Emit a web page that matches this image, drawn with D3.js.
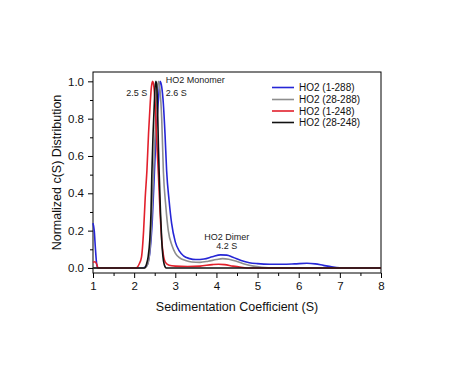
<!DOCTYPE html>
<html><head><meta charset="utf-8">
<script src="https://cdn.jsdelivr.net/npm/d3@7"></script>
<style>body{margin:0;background:#fff;} text{font-family:"Liberation Sans",Arial,sans-serif;}</style>
</head><body><svg id="c" width="474" height="366"></svg>
<script>
const seriesNames = ["HO2 (1-288)", "HO2 (28-288)", "HO2 (1-248)", "HO2 (28-248)"];
const seriesColors = ["#2626d6", "#8e8e8e", "#e2202c", "#111111"];
const blueS = [1.0,1.03,1.06,1.09,1.12,2.2,2.3,2.38,2.44,2.49,2.54,2.59,2.63,2.67,2.71,2.75,2.79,2.85,2.91,3.0,3.1,3.2,3.35,3.5,3.7,3.9,4.1,4.25,4.4,4.6,4.8,5.0,5.3,5.6,5.9,6.2,6.4,6.6,6.8,7.0,7.2,8.0];
const blueC = [0.24,0.2,0.1,0.02,0,0,0.01,0.08,0.25,0.5,0.75,0.9,1.0,0.97,0.88,0.72,0.52,0.36,0.24,0.14,0.09,0.065,0.05,0.045,0.048,0.06,0.07,0.069,0.058,0.04,0.028,0.023,0.02,0.02,0.022,0.025,0.022,0.014,0.006,0.001,0,0];
const grayS = [1.0,2.25,2.33,2.4,2.47,2.52,2.56,2.59,2.63,2.67,2.71,2.77,2.83,2.92,3.0,3.1,3.25,3.4,3.6,3.8,4.0,4.15,4.3,4.5,4.7,4.9,5.1,5.4,8.0];
const grayC = [0,0,0.02,0.15,0.5,0.78,0.95,1.0,0.95,0.8,0.52,0.33,0.2,0.12,0.08,0.055,0.04,0.032,0.03,0.036,0.045,0.05,0.047,0.035,0.02,0.01,0.004,0,0];
const redS = [1.0,1.05,1.09,1.12,2.05,2.12,2.18,2.23,2.27,2.31,2.35,2.39,2.42,2.45,2.48,2.51,2.55,2.59,2.63,2.67,2.71,2.76,2.85,3.0,3.3,3.6,3.9,4.05,4.2,4.4,4.6,4.8,8.0];
const redC = [0.03,0.033,0.02,0,0,0.02,0.06,0.2,0.38,0.52,0.72,0.88,0.97,1.0,0.97,0.88,0.68,0.5,0.3,0.15,0.07,0.03,0.015,0.01,0.008,0.01,0.018,0.02,0.018,0.01,0.004,0,0];
const blackS = [1.0,2.25,2.3,2.34,2.38,2.41,2.43,2.46,2.49,2.51,2.53,2.55,2.57,2.59,2.61,2.64,2.67,2.7,2.73,2.78,8.0];
const blackC = [0,0,0.02,0.06,0.15,0.3,0.5,0.72,0.88,0.97,1.0,0.97,0.85,0.65,0.5,0.3,0.15,0.06,0.02,0,0];
const xTicks = [1,2,3,4,5,6,7,8];
const yTicks = [0.0,0.2,0.4,0.6,0.8,1.0];
const annotations = [
  {text:"HO2 Monomer", s:2.77, c:0.99, anchor:"start"},
  {text:"2.5 S", s:2.32, c:0.92, anchor:"end"},
  {text:"2.6 S", s:2.77, c:0.92, anchor:"start"},
  {text:"HO2 Dimer", s:4.25, c:0.15, anchor:"middle"},
  {text:"4.2 S", s:4.25, c:0.10, anchor:"middle"}
];

const svg = d3.select("#c");
const L=93, R=381, T=72, B=273;
const x = d3.scaleLinear().domain([1,8]).range([L,R]);
const y = d3.scaleLinear().domain([-0.027,1.05]).range([B,T]);

svg.append("rect").attr("x",L).attr("y",T).attr("width",R-L).attr("height",B-T)
  .attr("fill","none").attr("stroke","#000").attr("stroke-width",1);

const data = [[blueS,blueC],[grayS,grayC],[redS,redC],[blackS,blackC]];
const line = d3.line().x(d=>x(d[0])).y(d=>y(d[1])).curve(d3.curveMonotoneX);
const g = svg.append("g");
data.forEach((sd,i)=>{
  const pts = sd[0].map((s,j)=>[s,sd[1][j]]);
  g.append("path").datum(pts).attr("d",line).attr("fill","none")
   .attr("stroke",seriesColors[i]).attr("stroke-width",1.6);
});

const xAx = svg.append("g").attr("transform",`translate(0,${B})`)
  .call(d3.axisBottom(x).tickValues(xTicks).tickFormat(d3.format("d")).tickSize(5).tickPadding(4));
const xMin = svg.append("g").attr("transform",`translate(0,${B})`)
  .call(d3.axisBottom(x).tickValues(d3.range(1.5,8,1)).tickFormat("").tickSize(3));
const yAx = svg.append("g").attr("transform",`translate(${L},0)`)
  .call(d3.axisLeft(y).tickValues(yTicks).tickFormat(d3.format(".1f")).tickSize(5).tickPadding(4));
const yMin = svg.append("g").attr("transform",`translate(${L},0)`)
  .call(d3.axisLeft(y).tickValues([0.1,0.3,0.5,0.7,0.9]).tickFormat("").tickSize(3));
[xAx,xMin,yAx,yMin].forEach(a=>{a.select(".domain").remove(); a.selectAll("line").attr("stroke","#000");});
svg.selectAll(".tick text").attr("font-size",11.5).attr("fill","#111").style("font-family","'Liberation Sans',Arial,sans-serif");

svg.append("text").attr("x",(L+R)/2).attr("y",311).attr("text-anchor","middle")
  .attr("font-size",12.5).attr("fill","#111").text("Sedimentation Coefficient (S)");
svg.append("text").attr("transform",`translate(61,${(T+B)/2}) rotate(-90)`).attr("text-anchor","middle")
  .attr("font-size",12.5).attr("fill","#111").text("Normalized c(S) Distribution");

annotations.forEach(a=>{
  svg.append("text").attr("x",x(a.s)).attr("y",y(a.c)).attr("text-anchor",a.anchor)
    .attr("font-size",9).attr("fill","#222").text(a.text);
});

const legY = [87.5,99.5,111,122.5];
seriesNames.forEach((n,i)=>{
  svg.append("line").attr("x1",272).attr("x2",294).attr("y1",legY[i]).attr("y2",legY[i])
    .attr("stroke",seriesColors[i]).attr("stroke-width",1.6);
  svg.append("text").attr("x",299).attr("y",legY[i]+3.5).attr("font-size",10).attr("fill","#111").text(n);
});
</script></body></html>
